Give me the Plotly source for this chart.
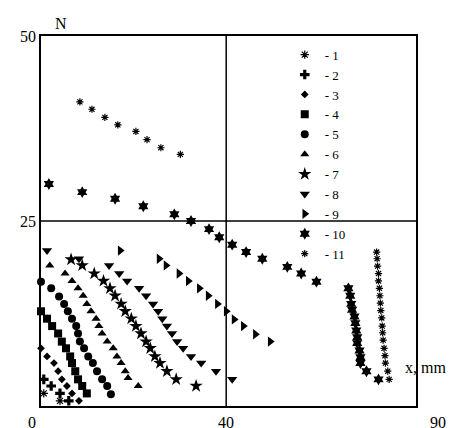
import plotly.graph_objects as go

# series values (x in mm, N)
x1 = [0.6, 4.1]
y1 = [1.7, 0.7]
x2 = [0.6, 2.2, 4.1, 6.0]
y2 = [3.6, 2.7, 1.7, 0.7]
x3 = [0, 1.3, 2.8, 3.7, 4.5, 5.6, 6.7, 8.2]
y3 = [7.8, 6.7, 5.8, 4.7, 3.6, 2.7, 1.7, 0.7]
x4 = [0, 1.3, 2.4, 3.7, 4.5, 5.4, 6.3, 6.7, 7.4, 8.0, 8.9, 9.9]
y4 = [12.8, 11.8, 10.8, 9.8, 8.7, 7.8, 6.7, 5.8, 4.7, 3.6, 2.7, 1.7]
x5 = [0, 2.2, 3.9, 5.0, 5.8, 6.7, 7.6, 8.0, 8.4, 9.3, 10.2, 11.2, 12.1, 13.2, 14.3, 15.1]
y5 = [16.8, 15.9, 14.8, 13.8, 12.8, 11.8, 10.8, 9.8, 8.7, 7.8, 6.7, 5.8, 4.7, 3.6, 2.7, 1.6]
x6 = [1.9, 5.2, 6.7, 8.0, 9.1, 9.9, 10.8, 11.9, 12.5, 13.2, 14.3, 15.6, 16.4, 17.3, 18.2, 18.8, 21.0]
y6 = [19.0, 17.9, 16.9, 15.9, 14.9, 13.8, 12.8, 11.8, 10.8, 9.8, 8.7, 7.8, 6.7, 5.8, 4.7, 3.8, 2.7]
x7 = [6.5, 8.9, 11.5, 13.5, 14.9, 16.0, 17.3, 18.2, 19.5, 20.5, 21.6, 22.7, 23.6, 24.6, 25.7, 27.2, 29.2, 33.5]
y7 = [19.8, 19.0, 17.9, 16.9, 15.9, 14.9, 13.8, 12.8, 11.8, 10.8, 9.8, 8.7, 7.8, 6.7, 5.8, 4.7, 3.6, 2.7]
x8 = [1.3, 8.2, 14.7, 16.9, 18.6, 21.2, 22.7, 24.2, 25.3, 26.2, 27.2, 28.3, 29.4, 30.7, 32.4, 34.6, 37.8, 41.3]
y8 = [21.0, 19.9, 19.0, 17.9, 16.9, 15.9, 14.9, 13.8, 12.8, 11.8, 10.8, 9.8, 8.7, 7.8, 6.7, 5.8, 4.7, 3.6]
x9 = [17.1, 25.5, 27.0, 29.8, 31.8, 34.2, 36.1, 38.1, 40.0, 41.7, 43.7, 46.3, 49.5]
y9 = [21.0, 19.9, 19.0, 17.9, 16.9, 15.9, 14.9, 13.8, 12.8, 11.7, 10.8, 9.7, 8.7]
x10 = [1.7, 8.9, 16.0, 22.1, 28.8, 32.4, 36.3, 38.5, 41.3, 44.3, 47.8, 53.2, 56.2, 59.5,
       66.4, 66.8, 67.0, 67.2, 67.7, 67.9, 68.1, 68.3, 68.3, 68.8, 69.0, 69.0, 70.3, 72.9]
y10 = [30.0, 28.9, 28.0, 27.0, 25.9, 25.0, 23.9, 22.8, 21.8, 20.8, 19.9, 18.8, 17.9, 16.8,
       15.9, 14.9, 13.8, 13.0, 12.1, 11.2, 10.2, 9.3, 8.5, 7.5, 6.6, 5.8, 4.7, 3.6]
x11 = [8.4, 11.0, 13.8, 16.6, 20.5, 22.9, 25.9, 30.1,
       72.5, 72.6, 72.7, 72.9, 72.9, 73.1, 73.2, 73.3, 73.4, 73.6, 73.7, 73.8, 73.9, 74.1, 74.3, 74.4, 74.9, 75.2]
y11 = [41.1, 40.1, 39.0, 38.0, 37.1, 36.0, 34.9, 34.0,
       20.8, 19.9, 18.9, 17.9, 16.9, 15.9, 14.9, 13.9, 12.9, 11.9, 10.8, 9.9, 8.9, 7.8, 6.8, 5.8, 4.7, 3.6]

x_labels = ['0', '40', '90']

series = [(x1, y1), (x2, y2), (x3, y3), (x4, y4), (x5, y5), (x6, y6),
          (x7, y7), (x8, y8), (x9, y9), (x10, y10), (x11, y11)]
symbols = ['asterisk-open', 'cross', 'diamond', 'square', 'circle', 'triangle-up',
           'star', 'triangle-down', 'triangle-right', 'hexagram', 'asterisk-open']
sizes = [7, 8, 6, 8, 8, 8, 10, 9, 9, 9, 6]

fig = go.Figure()
for i, (xs, ys) in enumerate(series):
    sym = symbols[i]
    line = dict(color='#555', width=1.2) if 'open' in sym else dict(width=0)
    fig.add_trace(go.Scatter(x=xs, y=ys, mode='markers', name='- %d' % (i + 1),
                             cliponaxis=False,
                             marker=dict(symbol=sym, size=sizes[i], color='black', line=line)))

font = dict(family='Liberation Serif', size=16, color='black')
fig.add_shape(type='line', x0=40, x1=40, y0=0, y1=50, line=dict(color='black', width=1.5))
fig.add_shape(type='line', x0=0, x1=81, y0=25, y1=25, line=dict(color='black', width=1.5))
for px, t in zip([-0.04, 0.493, 1.085], x_labels):
    fig.add_annotation(x=px, xref='paper', y=0, yref='paper', text=t, showarrow=False,
                       yanchor='top', yshift=-6, font=font)
fig.add_annotation(x=1.085, xref='paper', y=0.076, yref='paper', text='x, mm',
                   showarrow=False, font=font)
fig.add_annotation(x=0.032, xref='paper', y=1.0, yref='paper', text='N', showarrow=False,
                   yanchor='bottom', yshift=2, font=font)

fig.update_xaxes(range=[0, 81], showticklabels=False, showgrid=False, zeroline=False,
                 showline=True, mirror=True, linecolor='black', linewidth=1.5)
fig.update_yaxes(range=[0, 50], tickvals=[25, 50], showgrid=False, zeroline=False,
                 showline=True, mirror=True, linecolor='black', linewidth=1.5,
                 tickfont=font, automargin=False, ticks='')
fig.update_layout(width=474, height=428, plot_bgcolor='white', paper_bgcolor='white',
                  margin=dict(l=33, r=66, t=28, b=30), font=font,
                  legend=dict(x=0.65, y=0.99, xanchor='left', yanchor='top',
                              bgcolor='rgba(0,0,0,0)', font=dict(size=13), itemwidth=30))
fig.write_html("out.html")
